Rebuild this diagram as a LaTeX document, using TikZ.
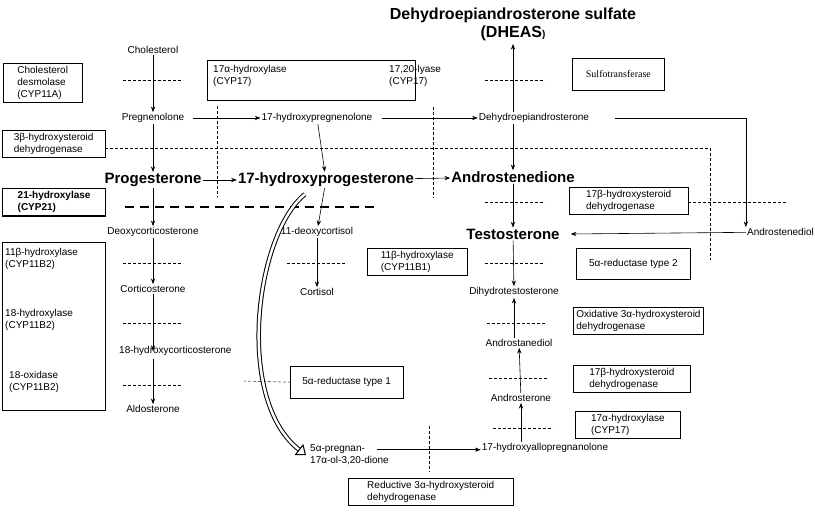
\documentclass[tikz,border=0pt]{standalone}
\usepackage{fontspec}
\setmainfont{Liberation Sans}
\newfontfamily\serifface{Liberation Serif}
\usetikzlibrary{arrows.meta, positioning}

\begin{document}
\begin{tikzpicture}[x=1pt, y=-1pt, line cap=butt, >=Stealth,
    mol/.style={font=\fontsize{10}{12}\selectfont, inner sep=1pt},
    big/.style={font=\fontsize{15}{17}\selectfont\bfseries, inner sep=1pt},
    enz/.style={draw, font=\fontsize{10}{12}\selectfont, align=left, anchor=north west, inner sep=3pt},
    rxn/.style={->, semithick},
    blk/.style={densely dashed, thin}]

    \useasboundingbox (0,0) rectangle (815,517);

    % Title
    \node[font=\fontsize{16}{18}\selectfont\bfseries, align=center] (dheas) at (513,24)
        {Dehydroepiandrosterone sulfate\\(DHEAS{\fontsize{10}{12}\selectfont)}};

    % Left column
    \node[mol] (chol) at (153,50) {Cholesterol};
    \node[mol] (preg) at (153,118) {Pregnenolone};
    \node[big] (prog) at (153,180) {Progesterone};
    \node[mol] (doc) at (153,232) {Deoxycorticosterone};
    \node[mol] (cort) at (153,289) {Corticosterone};
    \node[mol, anchor=west] (ohcort) at (118,351) {18-hydroxycorticosterone};
    \node[mol] (aldo) at (153,409) {Aldosterone};

    % Middle column
    \node[mol] (ohpreg) at (317,118) {17-hydroxypregnenolone};
    \node[big] (ohprog) at (326,180) {17-hydroxyprogesterone};
    \node[mol] (deoxy) at (317,232) {11-deoxycortisol};
    \node[mol] (cortisol) at (317,292) {Cortisol};
    \node[mol, align=left, anchor=west] (pregnan) at (309,455) {5α-pregnan-\\17α-ol-3,20-dione};

    % Right column
    \node[mol] (dhea) at (534,118) {Dehydroepiandrosterone};
    \node[big] (andro) at (513,177) {Androstenedione};
    \node[big] (testo) at (513,234) {Testosterone};
    \node[mol] (dht) at (514,292) {Dihydrotestosterone};
    \node[mol] (adiol) at (519,343) {Androstanediol};
    \node[mol] (aster) at (521,398) {Androsterone};
    \node[mol] (allo) at (545,448) {17-hydroxyallopregnanolone};
    \node[mol, anchor=east] (aenediol) at (815,232) {Androstenediol};

    % Enzymes
    \node[enz, minimum width=79pt] (desmo) at (3,63) {Cholesterol\\desmolase\\(CYP11A)};
    \node[enz, minimum width=103pt] (hsd3) at (2,130) {3β-hydroxysteroid\\dehydrogenase};
    \node[enz, very thick, font=\fontsize{10}{12}\selectfont\bfseries, minimum width=103pt] (cyp21) at (2,188) {21-hydroxylase\\(CYP21)};
    \draw (2,242) rectangle (105,410);
    \node[enz, draw=none] (b11b2) at (2,245) {11β-hydroxylase\\(CYP11B2)};
    \node[enz, draw=none] (h18) at (2,306) {18-hydroxylase\\(CYP11B2)};
    \node[enz, draw=none] (ox18) at (6,368) {18-oxidase\\(CYP11B2)};
    \draw (207,60) rectangle (415,100);
    \node[enz, draw=none] (cyp17a) at (210,62) {17α-hydroxylase\\(CYP17)};
    \node[enz, draw=none] (lyase) at (386,62) {17,20-lyase\\(CYP17)};
    \node[enz, thick, font=\serifface\fontsize{10}{12}\selectfont, minimum width=92pt, minimum height=32pt] (sulfo) at (572,58) {Sulfotransferase};
    \node[enz, minimum width=119pt] (hsd17a) at (569,187) {17β-hydroxysteroid\\dehydrogenase};
    \node[enz, minimum width=100pt] (b11b1) at (367,248) {11β-hydroxylase\\(CYP11B1)};
    \node[enz, thick, minimum width=114pt, minimum height=31pt] (red2) at (576,248) {5α-reductase type 2};
    \node[enz, thick, minimum width=125pt] (ox3a) at (573,307) {Oxidative 3α-hydroxysteroid\\dehydrogenase};
    \node[enz, thick, minimum width=117pt] (hsd17b) at (573,365) {17β-hydroxysteroid\\dehydrogenase};
    \node[enz, thick, minimum width=105pt] (cyp17b) at (575,411) {17α-hydroxylase\\(CYP17)};
    \node[enz, minimum width=113pt, minimum height=32pt] (red1) at (290,366) {5α-reductase type 1};
    \node[enz, minimum width=165pt] (red3a) at (348,478) {Reductive 3α-hydroxysteroid\\dehydrogenase};

    % Reaction arrows
    \draw[rxn] (chol) -- (preg);
    \draw[rxn] (preg) -- (prog);
    \draw[rxn] (prog) -- (doc);
    \draw[rxn] (doc) -- (cort);
    \draw[rxn] (cort) -- (ohcort.west -| cort);
    \draw[rxn] (ohcort.west -| aldo) ++(0,8) -- (aldo);
    \draw[rxn] (ohpreg) -- (ohprog);
    \draw[rxn] (ohprog) -- (deoxy);
    \draw[rxn] (deoxy) -- (cortisol);
    \draw[rxn] ([xshift=8pt]preg.east) -- (ohpreg);
    \draw[rxn] ([xshift=8pt]ohpreg.east) -- (dhea);
    \draw[rxn] (prog) -- (ohprog);
    \draw[rxn] (ohprog) -- (andro);
    \draw[rxn] (dhea.north -| dheas) -- (dheas);
    \draw[rxn] (dhea.south -| andro) -- (andro);
    \draw[rxn] (andro) -- (testo);
    \draw[rxn] (testo) -- (dht);
    \draw[rxn] (adiol.north -| dht) -- (dht);
    \draw[rxn] (aster) -- (adiol);
    \draw[rxn] (allo.north -| aster) -- (aster);
    \draw[rxn] ([xshift=25pt]dhea.east) -| (aenediol.north west);
    \draw[rxn] (aenediol) -- ([xshift=10pt]testo.east);
    \draw[rxn] ([xshift=-13pt]pregnan.north east) ++(0,6) coordinate (pstart) -- (pstart -| allo.west);

    % Enzyme blocks
    \draw[blk] (123,80) -- (183,80);
    \draw[blk] (hsd3.east |- 0,148) -- (710,148) -- (710,260);
    \draw[densely dashed] (217,106) -- (217,197);
    \draw[densely dashed] (433,107) -- (433,198);
    \draw[line width=2pt, dash pattern=on 9pt off 6pt] (125,207) -- (375,207);
    \draw[blk] (123,263) -- (183,263);
    \draw[blk] (123,323) -- (183,323);
    \draw[blk] (123,385) -- (183,385);
    \draw[blk] (287,263) -- (347,263);
    \draw[blk] (485,80) -- (545,80);
    \draw[blk] (485,202) -- (545,202);
    \draw[blk] (hsd17a.east |- 0,202) -- (787,202);
    \draw[blk] (485,263) -- (545,263);
    \draw[blk] (487,323) -- (545,323);
    \draw[blk] (489,378) -- (548,378);
    \draw[blk] (493,428) -- (553,428);
    \draw[blk] (243,381) -- (red1.west);
    \draw[blk] (429,426) -- (429,472);

    % Hollow pathway arrow
    \draw[double=white, double distance=2.5pt, line width=1pt,
        -{Triangle[open, length=9pt, width=14pt, line width=1pt]}]
        (ohprog.south west) ++(68,6) .. controls (255,235) and (235,400) .. ([xshift=-3pt]pregnan.west);
\end{tikzpicture}
\end{document}
